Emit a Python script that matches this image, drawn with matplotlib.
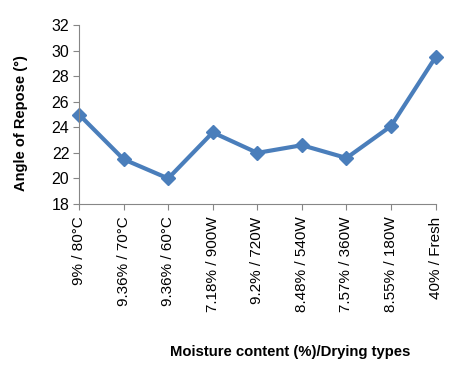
import matplotlib
matplotlib.use("Agg")
import matplotlib.pyplot as plt

# data
categories = ['9% / 80°C', '9.36% / 70°C', '9.36% / 60°C', '7.18% / 900W',
              '9.2% / 720W', '8.48% / 540W', '7.57% / 360W', '8.55% / 180W',
              '40% / Fresh']
angle = [25.0, 21.5, 20.0, 23.6, 22.0, 22.6, 21.6, 24.1, 29.5]
yticks = [18, 20, 22, 24, 26, 28, 30, 32]

plt.rcParams['font.family'] = ['Liberation Sans', 'DejaVu Sans']

fig = plt.figure(figsize=(4.74, 3.65), dpi=100)
ax = fig.add_axes([0.1667, 0.441, 0.7524, 0.4905])

x = list(range(len(categories)))
ax.plot(x, angle, color='#4a7ebb', lw=3, marker='D', ms=7,
        markerfacecolor='#4a7ebb', markeredgecolor='#4a7ebb', clip_on=False)

ax.set_xlim(0, len(categories) - 1)
ax.set_ylim(18, 32)
ax.set_yticks(yticks)
ax.set_xticks(x)
ax.set_xticklabels(categories, rotation=90, fontsize=11)
ax.tick_params(axis='y', labelsize=11.5, length=4, color='#868686', pad=3)
ax.tick_params(axis='x', length=4, color='#868686', pad=5)

for side in ['top', 'right']:
    ax.spines[side].set_visible(False)
for side in ['left', 'bottom']:
    ax.spines[side].set_color('#868686')

fig.text(0.045, 0.664, 'Angle of Repose (°)', rotation=90, ha='center',
         va='center', fontsize=10.5, fontweight='bold')
fig.text(0.613, 0.035, 'Moisture content (%)/Drying types', ha='center',
         va='center', fontsize=10.75, fontweight='bold')

fig.savefig('out.png', dpi=100)
